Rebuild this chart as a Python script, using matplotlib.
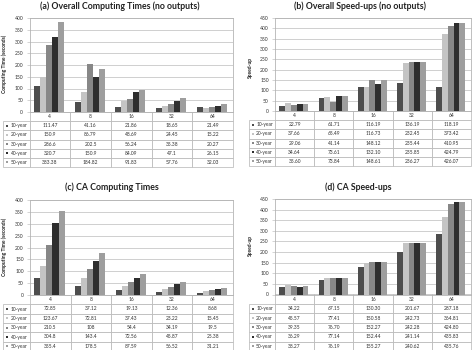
import matplotlib
matplotlib.use("Agg")
import matplotlib.pyplot as plt
from matplotlib.table import Table

plt.rcParams['font.family'] = ['Lato', 'DejaVu Sans']

categories = ["4", "8", "16", "32", "64"]
series_labels = ["10-year", "20-year", "30-year", "40-year", "50-year"]
series_colors = ["#4d4d4d", "#c4c4c4", "#878787", "#2e2e2e", "#9e9e9e"]

# (a) Overall Computing Times (no outputs)
a_10 = ["111.47", "41.16", "21.86", "18.65", "21.49"]
a_20 = ["150.9", "86.79", "48.69", "24.45", "15.22"]
a_30 = ["286.6", "202.5", "56.24", "35.38", "20.27"]
a_40 = ["320.7", "150.9", "84.09", "47.1", "26.15"]
a_50 = ["383.38", "184.82", "91.83", "57.76", "32.03"]

# (b) Overall Speed-ups (no outputs)
b_10 = ["22.79", "61.71", "116.19", "136.19", "118.19"]
b_20 = ["37.66", "65.49", "116.73", "232.45", "373.42"]
b_30 = ["29.06", "41.14", "148.12", "235.44", "410.95"]
b_40 = ["34.64", "73.61", "132.10", "235.85", "424.79"]
b_50 = ["35.60", "73.84", "148.61", "236.27", "426.07"]

# (c) CA Computing Times
c_10 = ["72.85", "37.12", "19.13", "12.36", "8.68"]
c_20 = ["123.67", "72.81", "37.43", "23.22", "15.45"]
c_30 = ["210.5", "108", "54.4", "34.19", "19.5"]
c_40 = ["304.8", "143.4", "72.56", "45.87", "25.38"]
c_50 = ["355.4", "178.5", "87.59", "56.52", "31.21"]

# (d) CA Speed-ups
d_10 = ["34.22", "67.15", "130.30", "201.67", "287.18"]
d_20 = ["45.57", "77.41", "150.58", "242.73", "364.81"]
d_30 = ["39.35", "76.70", "152.27", "242.28", "424.80"]
d_40 = ["36.29", "77.14", "152.44", "241.14", "435.83"]
d_50 = ["38.27", "76.19", "155.27", "240.62", "435.76"]

W, H = 474, 350
fig = plt.figure(figsize=(W / 100, H / 100), dpi=100)
fig.patch.set_facecolor("white")

GRID = "#c8c8c8"
EDGE = "#b4b4b4"


def panel(title, ylabel, series, ymax, L, R, T, B, TB, TL, tx, ty, ylx, yly):
    ax = fig.add_axes([L / W, 1 - B / H, (R - L) / W, (B - T) / H])
    n = len(series)
    bw = 0.148
    for i, (vals, col) in enumerate(zip(series, series_colors)):
        xs = [k + (i - (n - 1) / 2) * bw - 0.02 for k in range(len(categories))]
        ax.bar(xs, [float(v) for v in vals], width=bw, color=col,
               edgecolor="none", zorder=3)
    ax.set_xlim(-0.5, len(categories) - 0.5)
    ax.set_ylim(0, ymax)
    ax.set_yticks(range(0, ymax + 1, 50))
    ax.set_xticks([])
    ax.tick_params(axis="y", labelsize=3.6, length=2, width=0.4,
                   color=EDGE, pad=2.5, labelcolor="#333333")
    ax.grid(axis="y", color=GRID, linewidth=0.6, zorder=0)
    for s in ax.spines.values():
        s.set_color(EDGE)
        s.set_linewidth(0.6)

    # data table below the plot area
    aw = R - L
    ah = B - T
    x0 = (TL - L) / aw
    y0 = -(TB - B) / ah
    tbl = Table(ax, bbox=[x0, y0, 1 - x0, -y0])
    lab_w = (L - TL) / aw
    cat_w = 1.0 / len(categories)
    rows = [[""] + categories] + [[lab] + vals for lab, vals in zip(series_labels, series)]
    for r, row in enumerate(rows):
        for c, txt in enumerate(row):
            cell = tbl.add_cell(r, c, width=lab_w if c == 0 else cat_w, height=1,
                                text=txt, loc="right" if c == 0 else "center",
                                edgecolor=EDGE, facecolor="white")
            cell.set_linewidth(0.5)
            cell.get_text().set_fontsize(3.5)
            cell.get_text().set_color("#333333")
            if r == 0 and c == 0:
                cell.visible_edges = ""
            if c == 0:
                cell.PAD = 0.08
    tbl.auto_set_font_size(False)
    ax.add_table(tbl)

    # legend keys in label column
    nrow = len(rows)
    for i, col in enumerate(series_colors):
        yc_px = B + (TB - B) * (i + 1.5) / nrow
        xk_px = TL + 4.0
        ax.plot([(xk_px - L) / aw], [(B - yc_px) / ah], marker="s", markersize=1.8,
                color=col, markeredgewidth=0, transform=ax.transAxes, clip_on=False)

    fig.text(tx / W, 1 - ty / H, title, ha="center", va="center",
             fontsize=6.3, fontweight="bold", color="#222222")
    fig.text(ylx / W, 1 - yly / H, ylabel, ha="center", va="center", rotation=90,
             fontsize=3.6, fontweight="bold", color="#222222")
    return ax


panel("(a) Overall Computing Times (no outputs)", "Computing Time (seconds)",
      [a_10, a_20, a_30, a_40, a_50], 400,
      29.5, 233, 18, 112, 167, 2.5, 120, 6, 4, 64)
panel("(b) Overall Speed-ups (no outputs)", "Speed-up",
      [b_10, b_20, b_30, b_40, b_50], 450,
      275, 471, 18, 111, 166, 249, 359.5, 6, 250, 67)
panel("(c) CA Computing Times", "Computing Time (seconds)",
      [c_10, c_20, c_30, c_40, c_50], 400,
      30, 233, 200, 295, 351, 2.5, 112, 187, 4, 247)
panel("(d) CA Speed-ups", "Speed-up",
      [d_10, d_20, d_30, d_40, d_50], 450,
      275, 471, 199, 294.5, 351, 249, 358, 187, 250, 246)

fig.savefig("out.png", dpi=100, facecolor="white")
